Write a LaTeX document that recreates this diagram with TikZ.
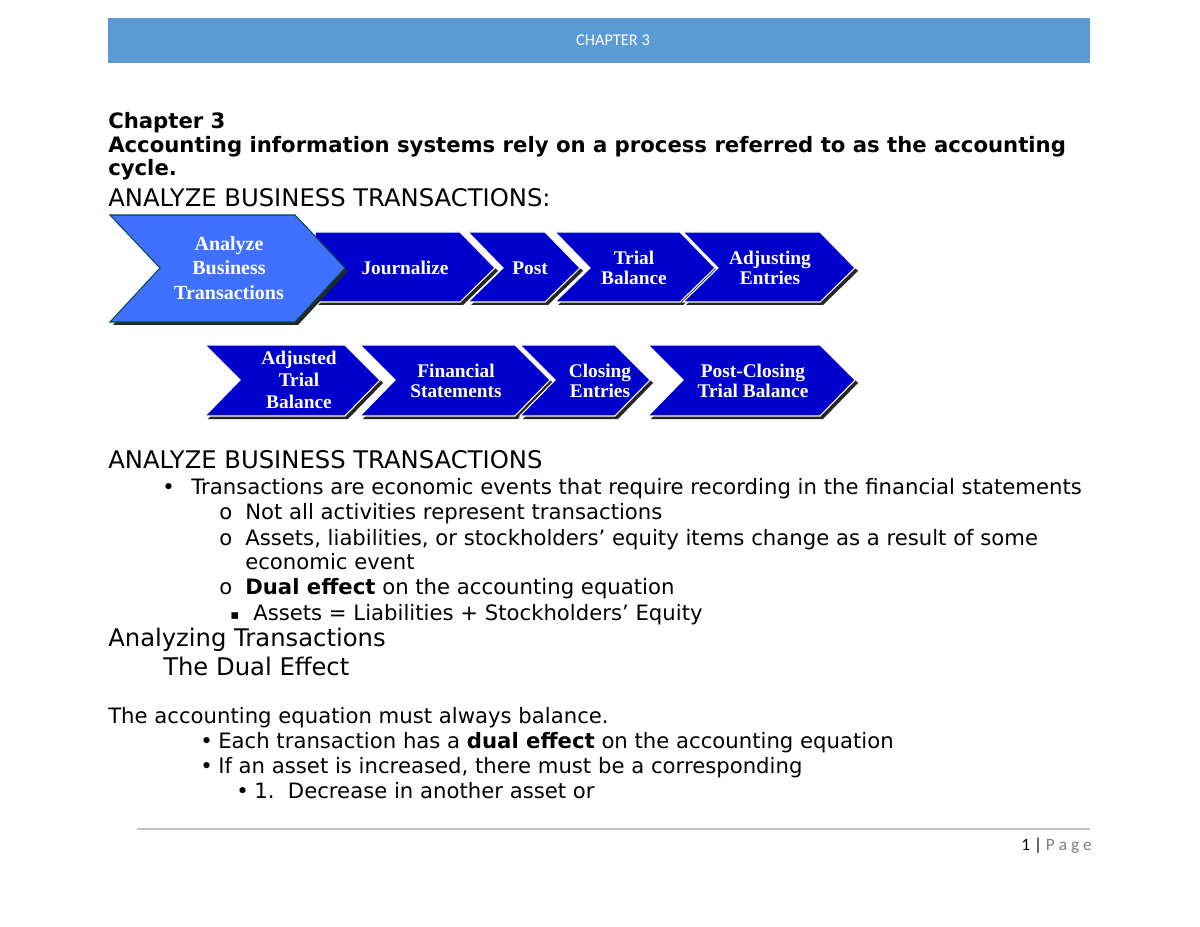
\documentclass[tikz,border=0pt]{standalone}
\usepackage{fontspec}
\setmainfont{DejaVu Sans}
\newfontfamily\tnr{Liberation Serif}
\newfontfamily\carlitofont{Carlito}
\begin{document}
\begin{tikzpicture}[x=0.75pt,y=-0.75pt,
  txt/.style={anchor=base west,inner sep=0pt,font=\fontsize{15.9}{18}\selectfont},
  head/.style={anchor=base west,inner sep=0pt,font=\fontsize{18.2}{20}\selectfont},
  chev/.style={fill=chevblue,draw=white,line width=0.8pt},
  clab/.style={align=center,text=white,font=\tnr\bfseries\fontsize{14.5}{15.5}\selectfont,inner sep=0pt}]
\definecolor{chevblue}{RGB}{0,0,204}
\definecolor{lightchev}{RGB}{64,112,255}
\definecolor{barblue}{RGB}{91,155,213}
\useasboundingbox (0,0) rectangle (1200,927);
\fill[white] (0,0) rectangle (1200,927);
% header
\fill[barblue] (108,18) rectangle (1090,63);
\node[text=white,font=\carlitofont\fontsize{12.3}{14}\selectfont] (hd) at (613,40) {CHAPTER 3};
% footer
\draw[gray!50,line width=1pt] (137,829) -- (1090,829);
\node[anchor=base east,inner sep=0pt,font=\carlitofont\fontsize{13}{15}\selectfont] (pg) at (1092,850) {1 | \textcolor{gray}{P a g e}};
% texts
\node[txt,font=\bfseries\fontsize{15.9}{18}\selectfont] (t1) at (108,129) {Chapter 3};
\node[txt,font=\bfseries\fontsize{15.9}{18}\selectfont] (t2) at (108,153) {Accounting information systems rely on a process referred to as the accounting};
\node[txt,font=\bfseries\fontsize{15.9}{18}\selectfont] (t3) at (108,176) {cycle.};
\node[head] (t4) at (108,207) {ANALYZE BUSINESS TRANSACTIONS:};
% chevron shadows
\foreach \a/\b/\c/\d/\y/\h/\m in {315/460/495/350/232/302/268,468/545/580/503/232/302/268,555/680/715/590/232/302/268,683/820/855/718/232/302/268,205/345/380/240/345/416/380,360/515/550/395/345/416/380,520/615/650/555/345/416/380,648/820/855/683/345/416/380}
  \fill[black!85] (\a+3,\y+3) -- (\b+3,\y+3) -- (\c+3,\m+3) -- (\b+3,\h+3) -- (\a+3,\h+3) -- (\d+3,\m+3) -- cycle;
\draw[chev] (315,232) -- (460,232) -- (495,268) -- (460,302) -- (315,302) -- cycle;
\draw[chev] (468,232) -- (545,232) -- (580,268) -- (545,302) -- (468,302) -- (503,268) -- cycle;
\draw[chev] (555,232) -- (680,232) -- (715,268) -- (680,302) -- (555,302) -- (590,268) -- cycle;
\draw[chev] (683,232) -- (820,232) -- (855,268) -- (820,302) -- (683,302) -- (718,268) -- cycle;
\fill[black!85] (113,218) -- (298,218) -- (348,271) -- (298,325) -- (113,325) -- (163,271) -- cycle;
\draw[fill=lightchev,draw=teal!60!black,line width=0.8pt] (110,215) -- (295,215) -- (345,268) -- (295,322) -- (110,322) -- (160,268) -- cycle;
\draw[chev] (205,345) -- (345,345) -- (380,380) -- (345,416) -- (205,416) -- (240,380) -- cycle;
\draw[chev] (360,345) -- (515,345) -- (550,380) -- (515,416) -- (360,416) -- (395,380) -- cycle;
\draw[chev] (520,345) -- (615,345) -- (650,380) -- (615,416) -- (520,416) -- (555,380) -- cycle;
\draw[chev] (648,345) -- (820,345) -- (855,380) -- (820,416) -- (648,416) -- (683,380) -- cycle;
\node[clab,font=\tnr\bfseries\fontsize{15}{18.5}\selectfont] (c1) at (229,268) {Analyze\\Business\\Transactions};
\node[clab] (c2) at (405,268) {Journalize};
\node[clab] (c3) at (530,268) {Post};
\node[clab] (c4) at (634,268) {Trial\\Balance};
\node[clab] (c5) at (770,268) {Adjusting\\Entries};
\node[clab,font=\tnr\bfseries\fontsize{14.5}{16.5}\selectfont] (c6) at (299,380) {Adjusted\\Trial\\Balance};
\node[clab] (c7) at (456,381) {Financial\\Statements};
\node[clab] (c8) at (600,381) {Closing\\Entries};
\node[clab] (c9) at (753,381) {Post-Closing\\Trial Balance};
% body
\node[head] (b1) at (108,468) {ANALYZE BUSINESS TRANSACTIONS};
\node[txt] (bu1) at (162,494) {•};
\node[txt] (b2) at (191,494) {Transactions are economic events that require recording in the financial statements};
\node[txt] (o1) at (219,519) {o};
\node[txt] (b3) at (245,519) {Not all activities represent transactions};
\node[txt] (o2) at (219,545) {o};
\node[txt] (b4) at (245,545) {Assets, liabilities, or stockholders’ equity items change as a result of some};
\node[txt] (b5) at (245,569) {economic event};
\node[txt] (o3) at (219,594) {o};
\node[txt] (b6) at (245,594) {\textbf{Dual effect} on the accounting equation};
\node[txt,font=\fontsize{10}{11}\selectfont] (sq) at (230,619) {▪};
\node[txt] (b7) at (253,620) {Assets = Liabilities + Stockholders’ Equity};
\node[head] (b8) at (108,646) {Analyzing Transactions};
\node[head] (b9) at (163,675) {The Dual Effect};
\node[txt] (b10) at (108,723) {The accounting equation must always balance.};
\node[txt] (bu2) at (200,748) {•};
\node[txt] (b11) at (218,748) {Each transaction has a \textbf{dual effect} on the accounting equation};
\node[txt] (bu3) at (200,773) {•};
\node[txt] (b12) at (218,773) {If an asset is increased, there must be a corresponding};
\node[txt] (bu4) at (236,798) {•};
\node[txt] (b13) at (254,798) {1.\ \ Decrease in another asset or};
\end{tikzpicture}
\end{document}
